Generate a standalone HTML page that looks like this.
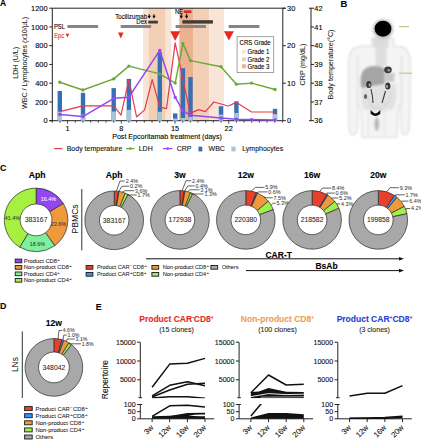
<!DOCTYPE html>
<html><head><meta charset="utf-8"><style>
html,body{margin:0;padding:0;background:#fff;}
body{width:421px;height:440px;overflow:hidden;}
svg{display:block;font-family:"Liberation Sans", sans-serif;}
</style></head><body>
<svg width="421" height="440" viewBox="0 0 421 440">
<defs>
<filter id="blur1" x="-10%" y="-10%" width="120%" height="120%"><feGaussianBlur stdDeviation="1.2"/></filter>
<filter id="blur0" x="-20%" y="-20%" width="140%" height="140%"><feGaussianBlur stdDeviation="0.5"/></filter>
</defs>
<rect width="421" height="440" fill="#fff"/>
<rect x="143.00" y="8.20" width="5.40" height="112.50" fill="#f9e5d8" />
<rect x="148.40" y="8.20" width="17.30" height="112.50" fill="#f3cfb6" />
<rect x="165.70" y="8.20" width="5.70" height="112.50" fill="#f9e5d8" />
<rect x="179.30" y="8.20" width="14.20" height="112.50" fill="#ecb290" />
<rect x="193.50" y="8.20" width="15.80" height="112.50" fill="#f3cfb6" />
<rect x="209.30" y="8.20" width="14.60" height="112.50" fill="#f9e5d8" />
<line x1="52.30" y1="8.20" x2="52.30" y2="121.20" stroke="#222" stroke-width="1" />
<line x1="49.30" y1="120.70" x2="52.30" y2="120.70" stroke="#222" stroke-width="1" />
<text x="47.50" y="123.40" font-size="7.4" text-anchor="end" font-weight="normal" fill="#000" stroke="#000" stroke-width="0.1" >0</text>
<line x1="49.30" y1="101.95" x2="52.30" y2="101.95" stroke="#222" stroke-width="1" />
<text x="47.50" y="104.65" font-size="7.4" text-anchor="end" font-weight="normal" fill="#000" stroke="#000" stroke-width="0.1" >200</text>
<line x1="49.30" y1="83.20" x2="52.30" y2="83.20" stroke="#222" stroke-width="1" />
<text x="47.50" y="85.90" font-size="7.4" text-anchor="end" font-weight="normal" fill="#000" stroke="#000" stroke-width="0.1" >400</text>
<line x1="49.30" y1="64.45" x2="52.30" y2="64.45" stroke="#222" stroke-width="1" />
<text x="47.50" y="67.15" font-size="7.4" text-anchor="end" font-weight="normal" fill="#000" stroke="#000" stroke-width="0.1" >600</text>
<line x1="49.30" y1="45.70" x2="52.30" y2="45.70" stroke="#222" stroke-width="1" />
<text x="47.50" y="48.40" font-size="7.4" text-anchor="end" font-weight="normal" fill="#000" stroke="#000" stroke-width="0.1" >800</text>
<line x1="49.30" y1="26.95" x2="52.30" y2="26.95" stroke="#222" stroke-width="1" />
<text x="47.50" y="29.65" font-size="7.4" text-anchor="end" font-weight="normal" fill="#000" stroke="#000" stroke-width="0.1" >1000</text>
<line x1="49.30" y1="8.20" x2="52.30" y2="8.20" stroke="#222" stroke-width="1" />
<text x="47.50" y="10.90" font-size="7.4" text-anchor="end" font-weight="normal" fill="#000" stroke="#000" stroke-width="0.1" >1200</text>
<line x1="52.30" y1="8.20" x2="285.80" y2="8.20" stroke="#222" stroke-width="1" />
<line x1="49.30" y1="120.70" x2="282.80" y2="120.70" stroke="#222" stroke-width="1" />
<line x1="52.30" y1="120.70" x2="52.30" y2="122.70" stroke="#222" stroke-width="0.8" />
<line x1="59.97" y1="120.70" x2="59.97" y2="122.70" stroke="#222" stroke-width="0.8" />
<line x1="67.64" y1="120.70" x2="67.64" y2="123.70" stroke="#222" stroke-width="0.8" />
<line x1="75.31" y1="120.70" x2="75.31" y2="122.70" stroke="#222" stroke-width="0.8" />
<line x1="82.98" y1="120.70" x2="82.98" y2="122.70" stroke="#222" stroke-width="0.8" />
<line x1="90.65" y1="120.70" x2="90.65" y2="122.70" stroke="#222" stroke-width="0.8" />
<line x1="98.32" y1="120.70" x2="98.32" y2="122.70" stroke="#222" stroke-width="0.8" />
<line x1="105.99" y1="120.70" x2="105.99" y2="122.70" stroke="#222" stroke-width="0.8" />
<line x1="113.66" y1="120.70" x2="113.66" y2="122.70" stroke="#222" stroke-width="0.8" />
<line x1="121.33" y1="120.70" x2="121.33" y2="123.70" stroke="#222" stroke-width="0.8" />
<line x1="129.00" y1="120.70" x2="129.00" y2="122.70" stroke="#222" stroke-width="0.8" />
<line x1="136.67" y1="120.70" x2="136.67" y2="122.70" stroke="#222" stroke-width="0.8" />
<line x1="144.34" y1="120.70" x2="144.34" y2="122.70" stroke="#222" stroke-width="0.8" />
<line x1="152.01" y1="120.70" x2="152.01" y2="122.70" stroke="#222" stroke-width="0.8" />
<line x1="159.68" y1="120.70" x2="159.68" y2="122.70" stroke="#222" stroke-width="0.8" />
<line x1="167.35" y1="120.70" x2="167.35" y2="122.70" stroke="#222" stroke-width="0.8" />
<line x1="175.02" y1="120.70" x2="175.02" y2="123.70" stroke="#222" stroke-width="0.8" />
<line x1="182.69" y1="120.70" x2="182.69" y2="122.70" stroke="#222" stroke-width="0.8" />
<line x1="190.36" y1="120.70" x2="190.36" y2="122.70" stroke="#222" stroke-width="0.8" />
<line x1="198.03" y1="120.70" x2="198.03" y2="122.70" stroke="#222" stroke-width="0.8" />
<line x1="205.70" y1="120.70" x2="205.70" y2="122.70" stroke="#222" stroke-width="0.8" />
<line x1="213.37" y1="120.70" x2="213.37" y2="122.70" stroke="#222" stroke-width="0.8" />
<line x1="221.04" y1="120.70" x2="221.04" y2="122.70" stroke="#222" stroke-width="0.8" />
<line x1="228.71" y1="120.70" x2="228.71" y2="123.70" stroke="#222" stroke-width="0.8" />
<line x1="236.38" y1="120.70" x2="236.38" y2="122.70" stroke="#222" stroke-width="0.8" />
<line x1="244.05" y1="120.70" x2="244.05" y2="122.70" stroke="#222" stroke-width="0.8" />
<line x1="251.72" y1="120.70" x2="251.72" y2="122.70" stroke="#222" stroke-width="0.8" />
<line x1="259.39" y1="120.70" x2="259.39" y2="122.70" stroke="#222" stroke-width="0.8" />
<line x1="267.06" y1="120.70" x2="267.06" y2="122.70" stroke="#222" stroke-width="0.8" />
<line x1="274.73" y1="120.70" x2="274.73" y2="122.70" stroke="#222" stroke-width="0.8" />
<line x1="282.40" y1="120.70" x2="282.40" y2="122.70" stroke="#222" stroke-width="0.8" />
<text x="67.64" y="130.80" font-size="7.4" text-anchor="middle" font-weight="normal" fill="#000" stroke="#000" stroke-width="0.1" >1</text>
<text x="121.33" y="130.80" font-size="7.4" text-anchor="middle" font-weight="normal" fill="#000" stroke="#000" stroke-width="0.1" >8</text>
<text x="175.02" y="130.80" font-size="7.4" text-anchor="middle" font-weight="normal" fill="#000" stroke="#000" stroke-width="0.1" >15</text>
<text x="228.71" y="130.80" font-size="7.4" text-anchor="middle" font-weight="normal" fill="#000" stroke="#000" stroke-width="0.1" >22</text>
<text x="167.00" y="138.50" font-size="7.1" text-anchor="middle" font-weight="normal" fill="#000" stroke="#000" stroke-width="0.1" >Post Epcoritamab treatment (days)</text>
<line x1="282.80" y1="8.20" x2="282.80" y2="120.70" stroke="#222" stroke-width="1" />
<line x1="282.80" y1="120.70" x2="285.80" y2="120.70" stroke="#222" stroke-width="1" />
<text x="287.10" y="123.40" font-size="7.4" text-anchor="start" font-weight="normal" fill="#000" stroke="#000" stroke-width="0.1" >0</text>
<line x1="282.80" y1="83.20" x2="285.80" y2="83.20" stroke="#222" stroke-width="1" />
<text x="287.10" y="85.90" font-size="7.4" text-anchor="start" font-weight="normal" fill="#000" stroke="#000" stroke-width="0.1" >10</text>
<line x1="282.80" y1="45.70" x2="285.80" y2="45.70" stroke="#222" stroke-width="1" />
<text x="287.10" y="48.40" font-size="7.4" text-anchor="start" font-weight="normal" fill="#000" stroke="#000" stroke-width="0.1" >20</text>
<line x1="282.80" y1="8.20" x2="285.80" y2="8.20" stroke="#222" stroke-width="1" />
<text x="287.10" y="10.90" font-size="7.4" text-anchor="start" font-weight="normal" fill="#000" stroke="#000" stroke-width="0.1" >30</text>
<line x1="311.00" y1="8.20" x2="311.00" y2="120.70" stroke="#222" stroke-width="1" />
<line x1="309.00" y1="120.70" x2="314.00" y2="120.70" stroke="#222" stroke-width="1" />
<text x="314.30" y="123.40" font-size="7.4" text-anchor="start" font-weight="normal" fill="#000" stroke="#000" stroke-width="0.1" >36</text>
<line x1="311.00" y1="101.95" x2="314.00" y2="101.95" stroke="#222" stroke-width="1" />
<text x="314.30" y="104.65" font-size="7.4" text-anchor="start" font-weight="normal" fill="#000" stroke="#000" stroke-width="0.1" >37</text>
<line x1="311.00" y1="83.20" x2="314.00" y2="83.20" stroke="#222" stroke-width="1" />
<text x="314.30" y="85.90" font-size="7.4" text-anchor="start" font-weight="normal" fill="#000" stroke="#000" stroke-width="0.1" >38</text>
<line x1="311.00" y1="64.45" x2="314.00" y2="64.45" stroke="#222" stroke-width="1" />
<text x="314.30" y="67.15" font-size="7.4" text-anchor="start" font-weight="normal" fill="#000" stroke="#000" stroke-width="0.1" >39</text>
<line x1="311.00" y1="45.70" x2="314.00" y2="45.70" stroke="#222" stroke-width="1" />
<text x="314.30" y="48.40" font-size="7.4" text-anchor="start" font-weight="normal" fill="#000" stroke="#000" stroke-width="0.1" >40</text>
<line x1="311.00" y1="26.95" x2="314.00" y2="26.95" stroke="#222" stroke-width="1" />
<text x="314.30" y="29.65" font-size="7.4" text-anchor="start" font-weight="normal" fill="#000" stroke="#000" stroke-width="0.1" >41</text>
<line x1="309.00" y1="8.20" x2="314.00" y2="8.20" stroke="#222" stroke-width="1" />
<text x="314.30" y="10.90" font-size="7.4" text-anchor="start" font-weight="normal" fill="#000" stroke="#000" stroke-width="0.1" >42</text>
<text x="0.00" y="0.00" font-size="7.1" text-anchor="middle" font-weight="normal" fill="#111" stroke="#111" stroke-width="0.04" transform="translate(18.4,62.8) rotate(-90)">LDH (U/L)</text>
<text x="0.00" y="0.00" font-size="7.1" text-anchor="middle" font-weight="normal" fill="#111" stroke="#111" stroke-width="0.04" transform="translate(27.3,62.9) rotate(-90)">WBC / Lymphocytes (x10/μL)</text>
<text x="0.00" y="0.00" font-size="7.2" text-anchor="middle" font-weight="normal" fill="#111" stroke="#111" stroke-width="0.04" transform="translate(305.3,64.5) rotate(-90)">CRP (mg/dL)</text>
<text x="0.00" y="0.00" font-size="7.2" text-anchor="middle" font-weight="normal" fill="#111" stroke="#111" stroke-width="0.04" transform="translate(332.5,64.5) rotate(-90)">Body temperature(°C)</text>
<text x="0.00" y="6.20" font-size="8.5" text-anchor="start" font-weight="bold" fill="#000" stroke="#000" stroke-width="0.1" >A</text>
<rect x="57.60" y="91.00" width="4.40" height="29.70" fill="#3470b6" />
<rect x="57.60" y="111.70" width="4.40" height="9.00" fill="#a9c5d6" />
<rect x="80.80" y="92.80" width="4.40" height="27.90" fill="#3470b6" />
<rect x="80.80" y="114.70" width="4.40" height="6.00" fill="#a9c5d6" />
<rect x="111.50" y="88.10" width="4.40" height="32.60" fill="#3470b6" />
<rect x="111.50" y="111.50" width="4.40" height="9.20" fill="#a9c5d6" />
<rect x="126.70" y="78.90" width="4.40" height="41.80" fill="#3470b6" />
<rect x="126.70" y="109.90" width="4.40" height="10.80" fill="#a9c5d6" />
<rect x="157.60" y="52.40" width="4.40" height="68.30" fill="#3470b6" />
<rect x="157.60" y="111.80" width="4.40" height="8.90" fill="#a9c5d6" />
<rect x="173.00" y="113.40" width="4.40" height="7.30" fill="#3470b6" />
<rect x="173.00" y="118.50" width="4.40" height="2.20" fill="#a9c5d6" />
<rect x="180.70" y="68.20" width="4.40" height="52.50" fill="#3470b6" />
<rect x="180.70" y="118.00" width="4.40" height="2.70" fill="#a9c5d6" />
<rect x="188.30" y="77.00" width="4.40" height="43.70" fill="#3470b6" />
<rect x="188.30" y="116.90" width="4.40" height="3.80" fill="#a9c5d6" />
<rect x="218.80" y="106.20" width="4.40" height="14.50" fill="#3470b6" />
<rect x="218.80" y="114.60" width="4.40" height="6.10" fill="#a9c5d6" />
<rect x="234.20" y="101.30" width="4.40" height="19.40" fill="#3470b6" />
<rect x="234.20" y="113.00" width="4.40" height="7.70" fill="#a9c5d6" />
<rect x="272.80" y="108.80" width="4.40" height="11.90" fill="#3470b6" />
<rect x="272.80" y="114.10" width="4.40" height="6.60" fill="#a9c5d6" />
<polyline points="59.80,111.70 82.90,105.80 113.70,105.90 121.00,115.20 128.90,79.70 136.60,117.00 144.60,109.90 152.20,79.70 159.80,107.10 166.50,108.60 175.20,42.80 190.20,113.40 198.70,109.60 205.50,111.60 213.80,102.00 228.30,106.00 236.40,102.40 251.60,112.00 275.00,112.00" fill="none" stroke="#e5394d" stroke-width="1.2" stroke-linejoin="round" />
<polyline points="59.80,82.20 82.90,90.00 113.70,78.90 128.90,66.10 159.80,73.90 175.20,83.10 182.90,43.60 190.50,60.60 221.00,66.70 236.40,84.20 251.60,83.10 275.00,89.50" fill="none" stroke="#6aa83a" stroke-width="1.45" stroke-linejoin="round" />
<circle cx="59.8" cy="82.2" r="1.65" fill="#6aa83a"/>
<circle cx="82.9" cy="90" r="1.65" fill="#6aa83a"/>
<circle cx="113.7" cy="78.9" r="1.65" fill="#6aa83a"/>
<circle cx="128.9" cy="66.1" r="1.65" fill="#6aa83a"/>
<circle cx="159.8" cy="73.9" r="1.65" fill="#6aa83a"/>
<circle cx="175.2" cy="83.1" r="1.65" fill="#6aa83a"/>
<circle cx="182.9" cy="43.6" r="1.65" fill="#6aa83a"/>
<circle cx="190.5" cy="60.6" r="1.65" fill="#6aa83a"/>
<circle cx="221" cy="66.7" r="1.65" fill="#6aa83a"/>
<circle cx="236.4" cy="84.2" r="1.65" fill="#6aa83a"/>
<circle cx="251.6" cy="83.1" r="1.65" fill="#6aa83a"/>
<circle cx="275" cy="89.5" r="1.65" fill="#6aa83a"/>
<polyline points="59.80,114.40 82.90,116.60 113.70,98.30 128.90,97.20 159.80,50.40 175.20,97.40 182.90,110.60 190.50,115.30 221.00,118.00 236.40,119.20 251.60,119.60 275.00,119.90" fill="none" stroke="#9447f5" stroke-width="1.5" stroke-linejoin="round" />
<circle cx="59.8" cy="114.4" r="1.7" fill="#9447f5"/>
<circle cx="82.9" cy="116.6" r="1.7" fill="#9447f5"/>
<circle cx="113.7" cy="98.3" r="1.7" fill="#9447f5"/>
<circle cx="128.9" cy="97.2" r="1.7" fill="#9447f5"/>
<circle cx="159.8" cy="50.4" r="1.7" fill="#9447f5"/>
<circle cx="175.2" cy="97.4" r="1.7" fill="#9447f5"/>
<circle cx="182.9" cy="110.6" r="1.7" fill="#9447f5"/>
<circle cx="190.5" cy="115.3" r="1.7" fill="#9447f5"/>
<circle cx="221" cy="118" r="1.7" fill="#9447f5"/>
<circle cx="236.4" cy="119.2" r="1.7" fill="#9447f5"/>
<circle cx="251.6" cy="119.6" r="1.7" fill="#9447f5"/>
<circle cx="275" cy="119.9" r="1.7" fill="#9447f5"/>
<text x="53.90" y="28.90" font-size="6.9" text-anchor="start" font-weight="normal" fill="#000" stroke="#000" stroke-width="0.1" textLength="11.2" lengthAdjust="spacingAndGlyphs">PSL</text>
<rect x="67.40" y="25.00" width="30.70" height="3.00" fill="#858585" />
<rect x="120.70" y="25.00" width="30.40" height="3.00" fill="#858585" />
<rect x="175.60" y="25.00" width="30.40" height="3.00" fill="#858585" />
<rect x="228.60" y="25.00" width="30.80" height="3.00" fill="#858585" />
<text x="54.20" y="37.90" font-size="6.8" text-anchor="start" font-weight="normal" fill="#e8281e" stroke="#e8281e" stroke-width="0.1" textLength="9.8" lengthAdjust="spacingAndGlyphs">Epc</text>
<polygon points="65.60,33.70 69.20,33.70 67.40,37.50" fill="#e8281e"/>
<polygon points="118.05,32.60 123.55,32.60 120.80,38.60" fill="#e8281e"/>
<polygon points="170.20,31.30 180.20,31.30 175.20,40.80" fill="#e8281e"/>
<polygon points="223.90,31.30 233.90,31.30 228.90,40.60" fill="#e8281e"/>
<text x="115.30" y="18.80" font-size="6.7" text-anchor="start" font-weight="normal" fill="#000" stroke="#000" stroke-width="0.1" textLength="31.8" lengthAdjust="spacingAndGlyphs">Tocilizumab</text>
<text x="136.30" y="24.30" font-size="6.7" text-anchor="start" font-weight="normal" fill="#000" stroke="#000" stroke-width="0.1" textLength="10.8" lengthAdjust="spacingAndGlyphs">Dex</text>
<rect x="148.30" y="20.70" width="9.60" height="2.80" fill="#3c3c3c" />
<rect x="182.40" y="20.20" width="30.50" height="3.40" fill="#3c3c3c" />
<text x="175.10" y="13.50" font-size="6.7" text-anchor="start" font-weight="normal" fill="#000" stroke="#000" stroke-width="0.1" textLength="8.2" lengthAdjust="spacingAndGlyphs">NE</text>
<rect x="183.80" y="10.40" width="7.60" height="2.60" fill="#d62a1c" />
<line x1="149.20" y1="14.20" x2="149.20" y2="16.80" stroke="#000" stroke-width="0.9" /><polygon points="147.60,15.80 150.80,15.80 149.20,18.80" fill="#000"/>
<line x1="154.00" y1="14.20" x2="154.00" y2="16.80" stroke="#000" stroke-width="0.9" /><polygon points="152.40,15.80 155.60,15.80 154.00,18.80" fill="#000"/>
<line x1="181.30" y1="13.60" x2="181.30" y2="16.80" stroke="#000" stroke-width="0.9" /><polygon points="179.70,15.80 182.90,15.80 181.30,18.80" fill="#000"/>
<line x1="186.60" y1="13.60" x2="186.60" y2="16.80" stroke="#000" stroke-width="0.9" /><polygon points="185.00,15.80 188.20,15.80 186.60,18.80" fill="#000"/>
<rect x="237.10" y="36.70" width="36.60" height="35.70" fill="#fff" stroke="#8a8a8a" stroke-width="0.8"/>
<text x="239.60" y="45.20" font-size="6.7" text-anchor="start" font-weight="normal" fill="#000" stroke="#000" stroke-width="0.1" textLength="31.1" lengthAdjust="spacingAndGlyphs">CRS Grade</text>
<rect x="242.00" y="49.60" width="4.00" height="4.00" fill="#f9e5d8" />
<text x="247.50" y="54.00" font-size="6.7" text-anchor="start" font-weight="normal" fill="#000" stroke="#000" stroke-width="0.1" textLength="22" lengthAdjust="spacingAndGlyphs">Grade 1</text>
<rect x="242.00" y="57.30" width="4.00" height="4.00" fill="#f3cfb6" />
<text x="247.50" y="61.70" font-size="6.7" text-anchor="start" font-weight="normal" fill="#000" stroke="#000" stroke-width="0.1" textLength="22" lengthAdjust="spacingAndGlyphs">Grade 2</text>
<rect x="242.00" y="64.30" width="4.00" height="4.00" fill="#ecb290" />
<text x="247.50" y="68.70" font-size="6.7" text-anchor="start" font-weight="normal" fill="#000" stroke="#000" stroke-width="0.1" textLength="22" lengthAdjust="spacingAndGlyphs">Grade 3</text>
<line x1="54.20" y1="148.60" x2="62.40" y2="148.60" stroke="#e5394d" stroke-width="1.2" />
<text x="66.70" y="151.10" font-size="7" text-anchor="start" font-weight="normal" fill="#111" stroke="#111" stroke-width="0.1" >Body temperature</text>
<line x1="126.00" y1="148.60" x2="134.50" y2="148.60" stroke="#6aa83a" stroke-width="1.2" />
<circle cx="130.2" cy="148.6" r="1.3" fill="#6aa83a"/>
<text x="138.70" y="151.10" font-size="7" text-anchor="start" font-weight="normal" fill="#111" stroke="#111" stroke-width="0.1" >LDH</text>
<line x1="163.00" y1="148.60" x2="172.50" y2="148.60" stroke="#9447f5" stroke-width="1.2" />
<circle cx="167.7" cy="148.6" r="1.3" fill="#9447f5"/>
<text x="176.70" y="151.10" font-size="7" text-anchor="start" font-weight="normal" fill="#111" stroke="#111" stroke-width="0.1" >CRP</text>
<rect x="198.50" y="146.70" width="3.80" height="4.70" fill="#3470b6" />
<text x="208.60" y="151.10" font-size="7" text-anchor="start" font-weight="normal" fill="#111" stroke="#111" stroke-width="0.1" >WBC</text>
<rect x="231.40" y="146.70" width="4.20" height="4.70" fill="#a9c5d6" />
<text x="242.20" y="151.10" font-size="7" text-anchor="start" font-weight="normal" fill="#111" stroke="#111" stroke-width="0.1" >Lymphocytes</text>
<text x="340.60" y="7.00" font-size="9.5" text-anchor="start" font-weight="bold" fill="#000" stroke="#000" stroke-width="0.1" >B</text>
<g filter="url(#blur1)">
<path d="M372,38 L393,38 L394,46 Q404,46 407,50 Q411,56 410.5,66 L410,100 L409.5,126 Q409,135 405,135 Q401,135 401,126 L400.5,104 L398,108 L397,137.5 L362,137.5 L361,108 L358,104 L357.5,126 Q357,135 353,135 Q349,135 349,126 L348.5,100 L348.5,66 Q348.5,55 352,50 Q356,46 366,46 L372,46 Z" fill="#f4f4f4" stroke="#dadada" stroke-width="1.1"/>
<path d="M357.5,56 L357.5,104 M401.5,56 L401.5,104" stroke="#dadada" stroke-width="1.2" fill="none"/>
<path d="M372.5,37 L389,37 L388,48 L373.5,48 Z" fill="#dcdcdc"/>
<path d="M381,46 L381,66" stroke="#dedede" stroke-width="11" fill="none"/>
<path d="M361,86 Q360,108 366,110 L392,110 Q398,104 396,84 Z" fill="#e2e2e2"/>
<path d="M368.5,112 L368.5,137 M384.5,112 L384.5,137" stroke="#e0e0e0" stroke-width="1" fill="none"/>
<path d="M360.5,82 Q360,67 372,66 Q383,65.5 386,70 L385,84 L372,86 L361,88 Z" fill="#a5a5a5"/>
<path d="M384,72 L395,73 L394,82 L384,82 Z" fill="#cacaca"/>
<ellipse cx="383" cy="29" rx="10.5" ry="10" fill="#c4c4c4"/>
<ellipse cx="376.8" cy="124" rx="2.4" ry="7" fill="#b8b8b8"/>
<path d="M365,92 L372,106 M393,92 L385,106 M370,106 L386,112 M386,106 L370,112" stroke="#d0d0d0" stroke-width="1" fill="none"/>
</g>
<g filter="url(#blur0)">
<ellipse cx="383" cy="28.7" rx="8.4" ry="8" fill="#000"/>
<ellipse cx="388" cy="69.8" rx="3.8" ry="3.4" fill="#3a3a3a"/>
<ellipse cx="388.8" cy="70.2" rx="1.4" ry="1.3" fill="#999"/>
<ellipse cx="368.8" cy="84.5" rx="2.6" ry="3.6" fill="#333"/>
<ellipse cx="369.6" cy="85" rx="1" ry="1.8" fill="#aaa"/>
<ellipse cx="387.8" cy="86" rx="2.6" ry="3.6" fill="#333"/>
<ellipse cx="387" cy="86.5" rx="1" ry="1.8" fill="#aaa"/>
<path d="M371,89 L372.5,97 L373,103 M385.5,91 L383.5,98 L382,103" stroke="#3a3a3a" stroke-width="1.1" fill="none"/>
<ellipse cx="365.5" cy="96.5" rx="1.6" ry="2.5" fill="#666"/>
<path d="M371.3,111.8 Q375.5,116.5 379.6,111.8 L379.6,113.5 Q375.5,117 371.3,113.5 Z" fill="#111" stroke="#111" stroke-width="1.4"/>
</g>
<rect x="399.00" y="26.00" width="10.00" height="1.20" fill="#c8c490" />
<rect x="399.00" y="72.60" width="13.00" height="1.20" fill="#c8c490" />
<text x="0.00" y="171.20" font-size="8.8" text-anchor="start" font-weight="bold" fill="#000" stroke="#000" stroke-width="0.1" >C</text>
<text x="37.10" y="177.90" font-size="8.7" text-anchor="middle" font-weight="bold" fill="#000" stroke="#000" stroke-width="0.1" >Aph</text>
<path d="M36.10,188.10 A31.8,31.8 0 0 1 63.37,203.54 L49.82,211.67 A16,16 0 0 0 36.10,203.90 Z" fill="#9346f2" stroke="#2a2a2a" stroke-width="0.7"/>
<path d="M63.37,203.54 A31.8,31.8 0 0 1 54.79,245.63 L45.50,232.84 A16,16 0 0 0 49.82,211.67 Z" fill="#f0993c" stroke="#2a2a2a" stroke-width="0.7"/>
<path d="M54.79,245.63 A31.8,31.8 0 0 1 19.74,247.17 L27.87,233.62 A16,16 0 0 0 45.50,232.84 Z" fill="#7ef09c" stroke="#2a2a2a" stroke-width="0.7"/>
<path d="M19.74,247.17 A31.8,31.8 0 0 1 36.10,188.10 L36.10,203.90 A16,16 0 0 0 27.87,233.62 Z" fill="#a6f040" stroke="#2a2a2a" stroke-width="0.7"/>
<text x="36.10" y="222.20" font-size="6.8" text-anchor="middle" font-weight="normal" fill="#222" stroke="#222" stroke-width="0.05" >383167</text>
<text x="48.50" y="201.00" font-size="5.4" text-anchor="middle" font-weight="normal" fill="#fff" stroke="#fff" stroke-width="0.05" >16.4%</text>
<text x="58.50" y="225.80" font-size="5.4" text-anchor="middle" font-weight="normal" fill="#333" stroke="#333" stroke-width="0.05" >23.6%</text>
<text x="37.50" y="245.80" font-size="5.4" text-anchor="middle" font-weight="normal" fill="#333" stroke="#333" stroke-width="0.05" >18.6%</text>
<text x="12.40" y="219.60" font-size="5.4" text-anchor="middle" font-weight="normal" fill="#333" stroke="#333" stroke-width="0.05" >41.4%</text>
<rect x="15.20" y="259.10" width="6.60" height="3.70" fill="#9346f2" stroke="#1a1a1a" stroke-width="0.9"/>
<text x="23.80" y="263.00" font-size="5.8" text-anchor="start" font-weight="normal" fill="#222" stroke="#222" stroke-width="0.06" >Product CD8<tspan baseline-shift="2" font-size="4.3"> +</tspan></text>
<rect x="15.20" y="265.55" width="6.60" height="3.70" fill="#f0993c" stroke="#1a1a1a" stroke-width="0.9"/>
<text x="23.80" y="269.45" font-size="5.8" text-anchor="start" font-weight="normal" fill="#222" stroke="#222" stroke-width="0.06" >Non-product CD8<tspan baseline-shift="2" font-size="4.3"> +</tspan></text>
<rect x="15.20" y="272.00" width="6.60" height="3.70" fill="#7ef09c" stroke="#1a1a1a" stroke-width="0.9"/>
<text x="23.80" y="275.90" font-size="5.8" text-anchor="start" font-weight="normal" fill="#222" stroke="#222" stroke-width="0.06" >Product CD4<tspan baseline-shift="2" font-size="4.3"> +</tspan></text>
<rect x="15.20" y="278.45" width="6.60" height="3.70" fill="#a6f040" stroke="#1a1a1a" stroke-width="0.9"/>
<text x="23.80" y="282.35" font-size="5.8" text-anchor="start" font-weight="normal" fill="#222" stroke="#222" stroke-width="0.06" >Non-product CD4<tspan baseline-shift="2" font-size="4.3"> +</tspan></text>
<line x1="81.80" y1="189.00" x2="81.80" y2="250.30" stroke="#333" stroke-width="1" />
<text x="0.00" y="0.00" font-size="8.6" text-anchor="middle" font-weight="normal" fill="#111" stroke="#111" stroke-width="0.03" transform="translate(78.2,218.9) rotate(-90)">PBMCs</text>
<text x="114.20" y="177.80" font-size="8.6" text-anchor="middle" font-weight="bold" fill="#000" stroke="#000" stroke-width="0.1" >Aph</text>
<path d="M114.20,191.00 A29.3,29.3 0 0 1 118.60,191.33 L116.42,205.67 A14.8,14.8 0 0 0 114.20,205.50 Z" fill="#e8402a" stroke="#2a2a2a" stroke-width="0.7"/>
<path d="M118.60,191.33 A29.3,29.3 0 0 1 118.97,191.39 L116.61,205.70 A14.8,14.8 0 0 0 116.42,205.67 Z" fill="#3d8ef5" stroke="#2a2a2a" stroke-width="0.7"/>
<path d="M118.97,191.39 A29.3,29.3 0 0 1 125.33,193.20 L119.82,206.61 A14.8,14.8 0 0 0 116.61,205.70 Z" fill="#f0993c" stroke="#2a2a2a" stroke-width="0.7"/>
<path d="M125.33,193.20 A29.3,29.3 0 0 1 128.15,194.54 L121.25,207.29 A14.8,14.8 0 0 0 119.82,206.61 Z" fill="#9ef04a" stroke="#2a2a2a" stroke-width="0.7"/>
<path d="M128.15,194.54 A29.3,29.3 0 1 1 114.20,191.00 L114.20,205.50 A14.8,14.8 0 1 0 121.25,207.29 Z" fill="#a8a8a8" stroke="#2a2a2a" stroke-width="0.7"/>
<text x="114.20" y="222.60" font-size="6.8" text-anchor="middle" font-weight="normal" fill="#222" stroke="#222" stroke-width="0.05" >383167</text>
<polyline points="116.41,191.08 120.00,181.00 124.90,181.00" fill="none" stroke="#222" stroke-width="0.7"/>
<text x="125.70" y="182.90" font-size="5.4" text-anchor="start" font-weight="normal" fill="#333" stroke="#333" stroke-width="0.04" >2.4%</text>
<polyline points="118.78,191.36 122.00,186.20 129.20,186.20" fill="none" stroke="#222" stroke-width="0.7"/>
<text x="130.00" y="188.10" font-size="5.4" text-anchor="start" font-weight="normal" fill="#333" stroke="#333" stroke-width="0.04" >0.2%</text>
<polyline points="122.20,192.11 125.00,190.70 134.20,190.70" fill="none" stroke="#222" stroke-width="0.7"/>
<text x="135.00" y="192.60" font-size="5.4" text-anchor="start" font-weight="normal" fill="#333" stroke="#333" stroke-width="0.04" >3.6%</text>
<polyline points="126.76,193.83 127.50,195.00 136.70,195.00" fill="none" stroke="#222" stroke-width="0.7"/>
<text x="137.50" y="196.90" font-size="5.4" text-anchor="start" font-weight="normal" fill="#333" stroke="#333" stroke-width="0.04" >1.7%</text>
<text x="179.90" y="177.80" font-size="8.6" text-anchor="middle" font-weight="bold" fill="#000" stroke="#000" stroke-width="0.1" >3w</text>
<path d="M179.90,190.60 A29.3,29.3 0 0 1 184.30,190.93 L182.12,205.27 A14.8,14.8 0 0 0 179.90,205.10 Z" fill="#e8402a" stroke="#2a2a2a" stroke-width="0.7"/>
<path d="M184.30,190.93 A29.3,29.3 0 0 1 185.03,191.05 L182.49,205.33 A14.8,14.8 0 0 0 182.12,205.27 Z" fill="#3d8ef5" stroke="#2a2a2a" stroke-width="0.7"/>
<path d="M185.03,191.05 A29.3,29.3 0 0 1 190.51,192.59 L185.26,206.11 A14.8,14.8 0 0 0 182.49,205.33 Z" fill="#f0993c" stroke="#2a2a2a" stroke-width="0.7"/>
<path d="M190.51,192.59 A29.3,29.3 0 0 1 192.71,193.55 L186.37,206.59 A14.8,14.8 0 0 0 185.26,206.11 Z" fill="#9ef04a" stroke="#2a2a2a" stroke-width="0.7"/>
<path d="M192.71,193.55 A29.3,29.3 0 1 1 179.90,190.60 L179.90,205.10 A14.8,14.8 0 1 0 186.37,206.59 Z" fill="#a8a8a8" stroke="#2a2a2a" stroke-width="0.7"/>
<text x="179.90" y="222.20" font-size="6.8" text-anchor="middle" font-weight="normal" fill="#222" stroke="#222" stroke-width="0.05" >172938</text>
<polyline points="182.11,190.68 186.00,180.70 191.20,180.70" fill="none" stroke="#222" stroke-width="0.7"/>
<text x="192.00" y="182.60" font-size="5.4" text-anchor="start" font-weight="normal" fill="#333" stroke="#333" stroke-width="0.04" >2.4%</text>
<polyline points="184.67,190.99 187.80,185.90 194.70,185.90" fill="none" stroke="#222" stroke-width="0.7"/>
<text x="195.50" y="187.80" font-size="5.4" text-anchor="start" font-weight="normal" fill="#333" stroke="#333" stroke-width="0.04" >0.4%</text>
<polyline points="187.81,191.69 189.60,189.80 199.50,189.80" fill="none" stroke="#222" stroke-width="0.7"/>
<text x="200.30" y="191.70" font-size="5.4" text-anchor="start" font-weight="normal" fill="#333" stroke="#333" stroke-width="0.04" >3.1%</text>
<polyline points="191.62,193.05 191.50,194.00 203.60,194.00" fill="none" stroke="#222" stroke-width="0.7"/>
<text x="204.40" y="195.90" font-size="5.4" text-anchor="start" font-weight="normal" fill="#333" stroke="#333" stroke-width="0.04" >1.3%</text>
<text x="245.80" y="177.80" font-size="8.6" text-anchor="middle" font-weight="bold" fill="#000" stroke="#000" stroke-width="0.1" >12w</text>
<path d="M245.80,190.60 A29.3,29.3 0 0 1 256.41,192.59 L251.16,206.11 A14.8,14.8 0 0 0 245.80,205.10 Z" fill="#e8402a" stroke="#2a2a2a" stroke-width="0.7"/>
<path d="M256.41,192.59 A29.3,29.3 0 0 1 257.44,193.01 L251.68,206.32 A14.8,14.8 0 0 0 251.16,206.11 Z" fill="#3d8ef5" stroke="#2a2a2a" stroke-width="0.7"/>
<path d="M257.44,193.01 A29.3,29.3 0 0 1 268.38,201.22 L257.20,210.47 A14.8,14.8 0 0 0 251.68,206.32 Z" fill="#f0993c" stroke="#2a2a2a" stroke-width="0.7"/>
<path d="M268.38,201.22 A29.3,29.3 0 0 1 273.24,209.63 L259.66,214.71 A14.8,14.8 0 0 0 257.20,210.47 Z" fill="#9ef04a" stroke="#2a2a2a" stroke-width="0.7"/>
<path d="M273.24,209.63 A29.3,29.3 0 1 1 245.80,190.60 L245.80,205.10 A14.8,14.8 0 1 0 259.66,214.71 Z" fill="#a8a8a8" stroke="#2a2a2a" stroke-width="0.7"/>
<text x="245.80" y="222.20" font-size="6.8" text-anchor="middle" font-weight="normal" fill="#222" stroke="#222" stroke-width="0.05" >220380</text>
<polyline points="251.20,191.10 255.40,187.40 264.50,187.40" fill="none" stroke="#222" stroke-width="0.7"/>
<text x="265.30" y="189.30" font-size="5.4" text-anchor="start" font-weight="normal" fill="#333" stroke="#333" stroke-width="0.04" >5.9%</text>
<polyline points="256.93,192.80 258.50,191.90 267.50,191.90" fill="none" stroke="#222" stroke-width="0.7"/>
<text x="268.30" y="193.80" font-size="5.4" text-anchor="start" font-weight="normal" fill="#333" stroke="#333" stroke-width="0.04" >0.6%</text>
<polyline points="263.39,196.47 266.10,197.80 272.80,197.80" fill="none" stroke="#222" stroke-width="0.7"/>
<text x="273.60" y="199.70" font-size="5.4" text-anchor="start" font-weight="normal" fill="#333" stroke="#333" stroke-width="0.04" >7.5%</text>
<polyline points="271.16,205.22 273.00,203.20 275.80,203.20" fill="none" stroke="#222" stroke-width="0.7"/>
<text x="276.60" y="205.10" font-size="5.4" text-anchor="start" font-weight="normal" fill="#333" stroke="#333" stroke-width="0.04" >5.3%</text>
<text x="312.10" y="177.80" font-size="8.6" text-anchor="middle" font-weight="bold" fill="#000" stroke="#000" stroke-width="0.1" >16w</text>
<path d="M312.10,190.60 A29.3,29.3 0 0 1 326.86,194.59 L319.55,207.11 A14.8,14.8 0 0 0 312.10,205.10 Z" fill="#e8402a" stroke="#2a2a2a" stroke-width="0.7"/>
<path d="M326.86,194.59 A29.3,29.3 0 0 1 327.80,195.16 L320.03,207.40 A14.8,14.8 0 0 0 319.55,207.11 Z" fill="#3d8ef5" stroke="#2a2a2a" stroke-width="0.7"/>
<path d="M327.80,195.16 A29.3,29.3 0 0 1 334.91,201.51 L323.62,210.61 A14.8,14.8 0 0 0 320.03,207.40 Z" fill="#f0993c" stroke="#2a2a2a" stroke-width="0.7"/>
<path d="M334.91,201.51 A29.3,29.3 0 0 1 338.99,208.26 L325.68,214.02 A14.8,14.8 0 0 0 323.62,210.61 Z" fill="#9ef04a" stroke="#2a2a2a" stroke-width="0.7"/>
<path d="M338.99,208.26 A29.3,29.3 0 1 1 312.10,190.60 L312.10,205.10 A14.8,14.8 0 1 0 325.68,214.02 Z" fill="#a8a8a8" stroke="#2a2a2a" stroke-width="0.7"/>
<text x="312.10" y="222.20" font-size="6.8" text-anchor="middle" font-weight="normal" fill="#222" stroke="#222" stroke-width="0.05" >218582</text>
<polyline points="319.74,191.61 322.30,188.10 331.30,188.10" fill="none" stroke="#222" stroke-width="0.7"/>
<text x="332.10" y="190.00" font-size="5.4" text-anchor="start" font-weight="normal" fill="#333" stroke="#333" stroke-width="0.04" >8.4%</text>
<polyline points="327.33,194.87 326.70,193.10 334.80,193.10" fill="none" stroke="#222" stroke-width="0.7"/>
<text x="335.60" y="195.00" font-size="5.4" text-anchor="start" font-weight="normal" fill="#333" stroke="#333" stroke-width="0.04" >0.6%</text>
<polyline points="331.61,198.04 332.70,198.00 338.40,198.00" fill="none" stroke="#222" stroke-width="0.7"/>
<text x="339.20" y="199.90" font-size="5.4" text-anchor="start" font-weight="normal" fill="#333" stroke="#333" stroke-width="0.04" >5.2%</text>
<polyline points="337.18,204.75 337.40,203.80 340.20,203.80" fill="none" stroke="#222" stroke-width="0.7"/>
<text x="341.00" y="205.70" font-size="5.4" text-anchor="start" font-weight="normal" fill="#333" stroke="#333" stroke-width="0.04" >4.3%</text>
<text x="378.30" y="177.80" font-size="8.6" text-anchor="middle" font-weight="bold" fill="#000" stroke="#000" stroke-width="0.1" >20w</text>
<path d="M378.30,190.60 A29.3,29.3 0 0 1 394.46,195.46 L386.46,207.56 A14.8,14.8 0 0 0 378.30,205.10 Z" fill="#e8402a" stroke="#2a2a2a" stroke-width="0.7"/>
<path d="M394.46,195.46 A29.3,29.3 0 0 1 396.98,197.32 L387.73,208.50 A14.8,14.8 0 0 0 386.46,207.56 Z" fill="#3d8ef5" stroke="#2a2a2a" stroke-width="0.7"/>
<path d="M396.98,197.32 A29.3,29.3 0 0 1 404.32,206.43 L391.44,213.10 A14.8,14.8 0 0 0 387.73,208.50 Z" fill="#f0993c" stroke="#2a2a2a" stroke-width="0.7"/>
<path d="M404.32,206.43 A29.3,29.3 0 0 1 406.93,213.69 L392.76,216.76 A14.8,14.8 0 0 0 391.44,213.10 Z" fill="#9ef04a" stroke="#2a2a2a" stroke-width="0.7"/>
<path d="M406.93,213.69 A29.3,29.3 0 1 1 378.30,190.60 L378.30,205.10 A14.8,14.8 0 1 0 392.76,216.76 Z" fill="#a8a8a8" stroke="#2a2a2a" stroke-width="0.7"/>
<text x="378.30" y="222.20" font-size="6.8" text-anchor="middle" font-weight="normal" fill="#222" stroke="#222" stroke-width="0.05" >199858</text>
<polyline points="386.74,191.84 390.00,187.70 398.90,187.70" fill="none" stroke="#222" stroke-width="0.7"/>
<text x="399.70" y="189.60" font-size="5.4" text-anchor="start" font-weight="normal" fill="#333" stroke="#333" stroke-width="0.04" >9.3%</text>
<polyline points="395.74,196.36 395.50,194.80 404.80,194.80" fill="none" stroke="#222" stroke-width="0.7"/>
<text x="405.60" y="196.70" font-size="5.4" text-anchor="start" font-weight="normal" fill="#333" stroke="#333" stroke-width="0.04" >1.7%</text>
<polyline points="401.11,201.51 402.00,201.10 408.40,201.10" fill="none" stroke="#222" stroke-width="0.7"/>
<text x="409.20" y="203.00" font-size="5.4" text-anchor="start" font-weight="normal" fill="#333" stroke="#333" stroke-width="0.04" >6.4%</text>
<polyline points="405.87,209.97 406.20,208.50 410.20,208.50" fill="none" stroke="#222" stroke-width="0.7"/>
<text x="411.00" y="210.40" font-size="5.4" text-anchor="start" font-weight="normal" fill="#333" stroke="#333" stroke-width="0.04" >4.2%</text>
<line x1="146.00" y1="258.80" x2="400.00" y2="258.80" stroke="#111" stroke-width="1" />
<polygon points="399,257 404,258.8 399,260.6" fill="#111"/>
<text x="278.70" y="257.60" font-size="8.5" text-anchor="middle" font-weight="bold" fill="#000" stroke="#000" stroke-width="0.1" >CAR-T</text>
<line x1="246.00" y1="270.60" x2="400.00" y2="270.60" stroke="#111" stroke-width="1" />
<polygon points="399,268.8 404,270.6 399,272.4" fill="#111"/>
<text x="326.60" y="268.80" font-size="8.5" text-anchor="middle" font-weight="bold" fill="#000" stroke="#000" stroke-width="0.1" >BsAb</text>
<rect x="86.10" y="265.50" width="6.80" height="3.70" fill="#e8402a" stroke="#1a1a1a" stroke-width="0.9"/>
<text x="96.90" y="269.30" font-size="5.6" text-anchor="start" font-weight="normal" fill="#222" stroke="#222" stroke-width="0.06" >Product CAR<tspan baseline-shift="2" font-size="4.3"> − </tspan>CD8<tspan baseline-shift="2" font-size="4.3"> +</tspan></text>
<rect x="86.10" y="272.50" width="6.80" height="3.70" fill="#3d8ef5" stroke="#1a1a1a" stroke-width="0.9"/>
<text x="96.90" y="276.30" font-size="5.6" text-anchor="start" font-weight="normal" fill="#222" stroke="#222" stroke-width="0.06" >Product CAR<tspan baseline-shift="2" font-size="4.3"> +</tspan>CD8<tspan baseline-shift="2" font-size="4.3"> +</tspan></text>
<rect x="151.90" y="265.50" width="6.80" height="3.70" fill="#f0993c" stroke="#1a1a1a" stroke-width="0.9"/>
<text x="162.70" y="269.30" font-size="5.6" text-anchor="start" font-weight="normal" fill="#222" stroke="#222" stroke-width="0.06" >Non-product CD8<tspan baseline-shift="2" font-size="4.3"> +</tspan></text>
<rect x="151.90" y="272.50" width="6.80" height="3.70" fill="#9ef04a" stroke="#1a1a1a" stroke-width="0.9"/>
<text x="162.70" y="276.30" font-size="5.6" text-anchor="start" font-weight="normal" fill="#222" stroke="#222" stroke-width="0.06" >Non-product CD4<tspan baseline-shift="2" font-size="4.3"> +</tspan></text>
<rect x="210.90" y="265.50" width="6.80" height="3.70" fill="#a8a8a8" stroke="#1a1a1a" stroke-width="0.9"/>
<text x="221.70" y="269.30" font-size="5.6" text-anchor="start" font-weight="normal" fill="#222" stroke="#222" stroke-width="0.06" >Others</text>
<text x="0.00" y="308.80" font-size="8.8" text-anchor="start" font-weight="bold" fill="#000" stroke="#000" stroke-width="0.1" >D</text>
<line x1="22.30" y1="331.40" x2="22.30" y2="398.00" stroke="#333" stroke-width="1" />
<text x="0.00" y="0.00" font-size="8.4" text-anchor="middle" font-weight="normal" fill="#111" stroke="#111" stroke-width="0.03" transform="translate(18,364.6) rotate(-90)">LNs</text>
<text x="53.90" y="326.40" font-size="8.6" text-anchor="middle" font-weight="bold" fill="#000" stroke="#000" stroke-width="0.1" >12w</text>
<path d="M53.90,338.60 A28.8,28.8 0 0 1 62.11,339.79 L58.29,352.64 A15.4,15.4 0 0 0 53.90,352.00 Z" fill="#e8402a" stroke="#2a2a2a" stroke-width="0.7"/>
<path d="M62.11,339.79 A28.8,28.8 0 0 1 63.83,340.36 L59.21,352.94 A15.4,15.4 0 0 0 58.29,352.64 Z" fill="#3d8ef5" stroke="#2a2a2a" stroke-width="0.7"/>
<path d="M63.83,340.36 A28.8,28.8 0 0 1 68.87,342.80 L61.91,354.24 A15.4,15.4 0 0 0 59.21,352.94 Z" fill="#f0993c" stroke="#2a2a2a" stroke-width="0.7"/>
<path d="M68.87,342.80 A28.8,28.8 0 0 1 71.55,344.64 L63.34,355.23 A15.4,15.4 0 0 0 61.91,354.24 Z" fill="#9ef04a" stroke="#2a2a2a" stroke-width="0.7"/>
<path d="M71.55,344.64 A28.8,28.8 0 1 1 53.90,338.60 L53.90,352.00 A15.4,15.4 0 1 0 63.34,355.23 Z" fill="#a8a8a8" stroke="#2a2a2a" stroke-width="0.7"/>
<text x="53.90" y="369.70" font-size="6.8" text-anchor="middle" font-weight="normal" fill="#222" stroke="#222" stroke-width="0.05" >348042</text>
<polyline points="58.05,338.90 59.00,330.50 62.00,330.50" fill="none" stroke="#222" stroke-width="0.7"/>
<text x="62.80" y="332.40" font-size="5.2" text-anchor="start" font-weight="normal" fill="#333" stroke="#333" stroke-width="0.04" >4.6%</text>
<polyline points="62.97,340.07 63.80,335.10 66.80,335.10" fill="none" stroke="#222" stroke-width="0.7"/>
<text x="67.60" y="337.00" font-size="5.2" text-anchor="start" font-weight="normal" fill="#333" stroke="#333" stroke-width="0.04" >1.0%</text>
<polyline points="66.41,341.46 67.00,339.00 74.80,339.00" fill="none" stroke="#222" stroke-width="0.7"/>
<text x="75.60" y="340.90" font-size="5.2" text-anchor="start" font-weight="normal" fill="#333" stroke="#333" stroke-width="0.04" >3.1%</text>
<polyline points="70.24,343.68 69.30,343.80 81.00,343.80" fill="none" stroke="#222" stroke-width="0.7"/>
<text x="81.80" y="345.70" font-size="5.2" text-anchor="start" font-weight="normal" fill="#333" stroke="#333" stroke-width="0.04" >1.8%</text>
<rect x="24.60" y="406.60" width="7.60" height="4.00" fill="#e8402a" stroke="#1a1a1a" stroke-width="0.9"/>
<text x="35.50" y="410.70" font-size="5.9" text-anchor="start" font-weight="normal" fill="#222" stroke="#222" stroke-width="0.06" >Product CAR<tspan baseline-shift="2" font-size="4.3"> − </tspan>CD8<tspan baseline-shift="2" font-size="4.3"> +</tspan></text>
<rect x="24.60" y="413.70" width="7.60" height="4.00" fill="#3d8ef5" stroke="#1a1a1a" stroke-width="0.9"/>
<text x="35.50" y="417.80" font-size="5.9" text-anchor="start" font-weight="normal" fill="#222" stroke="#222" stroke-width="0.06" >Product CAR<tspan baseline-shift="2" font-size="4.3"> +</tspan>CD8<tspan baseline-shift="2" font-size="4.3"> +</tspan></text>
<rect x="24.60" y="420.80" width="7.60" height="4.00" fill="#f0993c" stroke="#1a1a1a" stroke-width="0.9"/>
<text x="35.50" y="424.90" font-size="5.9" text-anchor="start" font-weight="normal" fill="#222" stroke="#222" stroke-width="0.06" >Non-product CD8<tspan baseline-shift="2" font-size="4.3"> +</tspan></text>
<rect x="24.60" y="427.90" width="7.60" height="4.00" fill="#9ef04a" stroke="#1a1a1a" stroke-width="0.9"/>
<text x="35.50" y="432.00" font-size="5.9" text-anchor="start" font-weight="normal" fill="#222" stroke="#222" stroke-width="0.06" >Non-product CD4<tspan baseline-shift="2" font-size="4.3"> +</tspan></text>
<rect x="24.60" y="435.00" width="7.60" height="4.00" fill="#a8a8a8" stroke="#1a1a1a" stroke-width="0.9"/>
<text x="35.50" y="439.10" font-size="5.9" text-anchor="start" font-weight="normal" fill="#222" stroke="#222" stroke-width="0.06" >Others</text>
<text x="95.80" y="309.50" font-size="8.8" text-anchor="start" font-weight="bold" fill="#000" stroke="#000" stroke-width="0.1" >E</text>
<text x="0.00" y="0.00" font-size="8.4" text-anchor="middle" font-weight="normal" fill="#111" stroke="#111" stroke-width="0.08" transform="translate(108.2,379.6) rotate(-90)">Repertoire</text>
<text x="176.50" y="322.40" font-size="8.5" text-anchor="middle" font-weight="bold" fill="#e8281e" stroke="#e8281e" stroke-width="0.1" >Product CAR<tspan baseline-shift="super" font-size="5">-</tspan>CD8<tspan baseline-shift="super" font-size="5">+</tspan></text>
<text x="176.50" y="331.60" font-size="7" text-anchor="middle" font-weight="normal" fill="#222" stroke="#222" stroke-width="0.08" >(15 clones)</text>
<line x1="140.30" y1="342.40" x2="140.30" y2="397.70" stroke="#222" stroke-width="1" />
<line x1="138.50" y1="397.70" x2="142.10" y2="397.70" stroke="#222" stroke-width="1" />
<line x1="137.10" y1="379.80" x2="140.30" y2="379.80" stroke="#222" stroke-width="1" />
<text x="135.70" y="382.30" font-size="7.1" text-anchor="end" font-weight="normal" fill="#111" stroke="#111" stroke-width="0.1" >5000</text>
<line x1="137.10" y1="361.00" x2="140.30" y2="361.00" stroke="#222" stroke-width="1" />
<text x="135.70" y="363.50" font-size="7.1" text-anchor="end" font-weight="normal" fill="#111" stroke="#111" stroke-width="0.1" >10000</text>
<line x1="137.10" y1="342.20" x2="140.30" y2="342.20" stroke="#222" stroke-width="1" />
<text x="135.70" y="344.70" font-size="7.1" text-anchor="end" font-weight="normal" fill="#111" stroke="#111" stroke-width="0.1" >15000</text>
<line x1="140.30" y1="404.50" x2="140.30" y2="418.80" stroke="#222" stroke-width="1" />
<line x1="138.50" y1="404.50" x2="142.10" y2="404.50" stroke="#222" stroke-width="1" />
<line x1="137.10" y1="418.80" x2="140.30" y2="418.80" stroke="#222" stroke-width="1" />
<text x="135.70" y="421.30" font-size="7.1" text-anchor="end" font-weight="normal" fill="#111" stroke="#111" stroke-width="0.1" >0</text>
<line x1="137.10" y1="411.65" x2="140.30" y2="411.65" stroke="#222" stroke-width="1" />
<text x="135.70" y="414.15" font-size="7.1" text-anchor="end" font-weight="normal" fill="#111" stroke="#111" stroke-width="0.1" >50</text>
<line x1="137.10" y1="404.50" x2="140.30" y2="404.50" stroke="#222" stroke-width="1" />
<text x="135.70" y="407.00" font-size="7.1" text-anchor="end" font-weight="normal" fill="#111" stroke="#111" stroke-width="0.1" >100</text>
<line x1="140.30" y1="418.80" x2="214.30" y2="418.80" stroke="#222" stroke-width="1" />
<line x1="152.10" y1="418.80" x2="152.10" y2="422.00" stroke="#222" stroke-width="1" />
<text x="0.00" y="0.00" font-size="7.7" text-anchor="end" font-weight="normal" fill="#111" stroke="#111" stroke-width="0.08" transform="translate(153.90,428.1) rotate(-45)">3w</text>
<line x1="169.70" y1="418.80" x2="169.70" y2="422.00" stroke="#222" stroke-width="1" />
<text x="0.00" y="0.00" font-size="7.7" text-anchor="end" font-weight="normal" fill="#111" stroke="#111" stroke-width="0.08" transform="translate(171.50,428.1) rotate(-45)">12w</text>
<line x1="187.40" y1="418.80" x2="187.40" y2="422.00" stroke="#222" stroke-width="1" />
<text x="0.00" y="0.00" font-size="7.7" text-anchor="end" font-weight="normal" fill="#111" stroke="#111" stroke-width="0.08" transform="translate(189.20,428.1) rotate(-45)">16w</text>
<line x1="205.00" y1="418.80" x2="205.00" y2="422.00" stroke="#222" stroke-width="1" />
<text x="0.00" y="0.00" font-size="7.7" text-anchor="end" font-weight="normal" fill="#111" stroke="#111" stroke-width="0.08" transform="translate(206.80,428.1) rotate(-45)">20w</text>
<clipPath id="cu140"><rect x="140.3" y="342" width="80" height="56.3"/></clipPath>
<clipPath id="cl140"><rect x="140.3" y="404" width="80" height="15"/></clipPath>
<g clip-path="url(#cu140)">
<polyline points="152.10,387.30 169.70,364.10 187.40,363.20 205.00,358.40" fill="none" stroke="#111" stroke-width="1.5" stroke-linejoin="round" />
<polyline points="152.10,395.80 169.70,385.30 187.40,381.70 205.00,385.80" fill="none" stroke="#111" stroke-width="1.5" stroke-linejoin="round" />
<polyline points="152.10,397.00 169.70,390.00 187.40,384.20 205.00,383.30" fill="none" stroke="#111" stroke-width="1.5" stroke-linejoin="round" />
<polyline points="152.10,398.00 169.70,396.70 187.40,396.70 205.00,398.30" fill="none" stroke="#111" stroke-width="1.5" stroke-linejoin="round" />
</g>
<g clip-path="url(#cl140)">
<polygon points="152.10000000000002,418.8 152.10000000000002,416.2 169.70000000000002,415.8 175.70000000000002,415 187.4,413 205.0,412.8 205.0,418.8" fill="#111"/><path d="M188.4,415.6 Q196.4,414.2 205.0,414.6 L205.0,416.2 Q196.4,416.6 188.4,415.6 Z" fill="#fff"/>
<polyline points="152.10,416.30 169.70,405.80 187.40,405.30 205.00,407.00" fill="none" stroke="#111" stroke-width="1.5" stroke-linejoin="round" />
</g>
<text x="277.50" y="322.40" font-size="8.5" text-anchor="middle" font-weight="bold" fill="#f0a050" stroke="#f0a050" stroke-width="0.1" >Non-product CD8<tspan baseline-shift="super" font-size="5">+</tspan></text>
<text x="277.50" y="331.60" font-size="7" text-anchor="middle" font-weight="normal" fill="#222" stroke="#222" stroke-width="0.08" >(100 clones)</text>
<line x1="239.10" y1="342.40" x2="239.10" y2="397.70" stroke="#222" stroke-width="1" />
<line x1="237.30" y1="397.70" x2="240.90" y2="397.70" stroke="#222" stroke-width="1" />
<line x1="235.90" y1="379.80" x2="239.10" y2="379.80" stroke="#222" stroke-width="1" />
<text x="234.50" y="382.30" font-size="7.1" text-anchor="end" font-weight="normal" fill="#111" stroke="#111" stroke-width="0.1" >5000</text>
<line x1="235.90" y1="361.00" x2="239.10" y2="361.00" stroke="#222" stroke-width="1" />
<text x="234.50" y="363.50" font-size="7.1" text-anchor="end" font-weight="normal" fill="#111" stroke="#111" stroke-width="0.1" >10000</text>
<line x1="235.90" y1="342.20" x2="239.10" y2="342.20" stroke="#222" stroke-width="1" />
<text x="234.50" y="344.70" font-size="7.1" text-anchor="end" font-weight="normal" fill="#111" stroke="#111" stroke-width="0.1" >15000</text>
<line x1="239.10" y1="404.50" x2="239.10" y2="418.80" stroke="#222" stroke-width="1" />
<line x1="237.30" y1="404.50" x2="240.90" y2="404.50" stroke="#222" stroke-width="1" />
<line x1="235.90" y1="418.80" x2="239.10" y2="418.80" stroke="#222" stroke-width="1" />
<text x="234.50" y="421.30" font-size="7.1" text-anchor="end" font-weight="normal" fill="#111" stroke="#111" stroke-width="0.1" >0</text>
<line x1="235.90" y1="411.65" x2="239.10" y2="411.65" stroke="#222" stroke-width="1" />
<text x="234.50" y="414.15" font-size="7.1" text-anchor="end" font-weight="normal" fill="#111" stroke="#111" stroke-width="0.1" >50</text>
<line x1="235.90" y1="404.50" x2="239.10" y2="404.50" stroke="#222" stroke-width="1" />
<text x="234.50" y="407.00" font-size="7.1" text-anchor="end" font-weight="normal" fill="#111" stroke="#111" stroke-width="0.1" >100</text>
<line x1="239.10" y1="418.80" x2="313.10" y2="418.80" stroke="#222" stroke-width="1" />
<line x1="250.90" y1="418.80" x2="250.90" y2="422.00" stroke="#222" stroke-width="1" />
<text x="0.00" y="0.00" font-size="7.7" text-anchor="end" font-weight="normal" fill="#111" stroke="#111" stroke-width="0.08" transform="translate(252.70,428.1) rotate(-45)">3w</text>
<line x1="268.50" y1="418.80" x2="268.50" y2="422.00" stroke="#222" stroke-width="1" />
<text x="0.00" y="0.00" font-size="7.7" text-anchor="end" font-weight="normal" fill="#111" stroke="#111" stroke-width="0.08" transform="translate(270.30,428.1) rotate(-45)">12w</text>
<line x1="286.20" y1="418.80" x2="286.20" y2="422.00" stroke="#222" stroke-width="1" />
<text x="0.00" y="0.00" font-size="7.7" text-anchor="end" font-weight="normal" fill="#111" stroke="#111" stroke-width="0.08" transform="translate(288.00,428.1) rotate(-45)">16w</text>
<line x1="303.80" y1="418.80" x2="303.80" y2="422.00" stroke="#222" stroke-width="1" />
<text x="0.00" y="0.00" font-size="7.7" text-anchor="end" font-weight="normal" fill="#111" stroke="#111" stroke-width="0.08" transform="translate(305.60,428.1) rotate(-45)">20w</text>
<clipPath id="cu239"><rect x="239.1" y="342" width="80" height="56.3"/></clipPath>
<clipPath id="cl239"><rect x="239.1" y="404" width="80" height="15"/></clipPath>
<g clip-path="url(#cu239)">
<polygon points="250.9,392 258.9,391.5 268.5,388.1 286.2,391.8 303.8,392 303.8,398.3 250.9,398.3" fill="#111"/><polyline points="250.9,396.6 268.5,393.6 286.2,394.6 303.8,394.2" stroke="#fff" stroke-width="0.9" fill="none"/><polyline points="260.9,397.2 303.8,396.8" stroke="#fff" stroke-width="0.6" fill="none"/>
<polyline points="250.90,392.80 268.50,375.00 286.20,385.00 303.80,384.30" fill="none" stroke="#111" stroke-width="1.5" stroke-linejoin="round" />
</g>
<g clip-path="url(#cl239)">
<polygon points="250.9,418.8 250.9,417.5 268.5,413 286.2,413 303.8,414.2 303.8,418.8" fill="#111"/>
<polyline points="250.90,416.00 268.50,395.00 286.20,395.00 303.80,395.00" fill="none" stroke="#111" stroke-width="1.5" stroke-linejoin="round" />
</g>
<text x="374.50" y="322.40" font-size="8.5" text-anchor="middle" font-weight="bold" fill="#2440d8" stroke="#2440d8" stroke-width="0.1" >Product CAR<tspan baseline-shift="super" font-size="5">+</tspan>CD8<tspan baseline-shift="super" font-size="5">+</tspan></text>
<text x="374.50" y="331.60" font-size="7" text-anchor="middle" font-weight="normal" fill="#222" stroke="#222" stroke-width="0.08" >(3 clones)</text>
<line x1="337.80" y1="342.40" x2="337.80" y2="397.70" stroke="#222" stroke-width="1" />
<line x1="336.00" y1="397.70" x2="339.60" y2="397.70" stroke="#222" stroke-width="1" />
<line x1="334.60" y1="379.80" x2="337.80" y2="379.80" stroke="#222" stroke-width="1" />
<text x="333.20" y="382.30" font-size="7.1" text-anchor="end" font-weight="normal" fill="#111" stroke="#111" stroke-width="0.1" >5000</text>
<line x1="334.60" y1="361.00" x2="337.80" y2="361.00" stroke="#222" stroke-width="1" />
<text x="333.20" y="363.50" font-size="7.1" text-anchor="end" font-weight="normal" fill="#111" stroke="#111" stroke-width="0.1" >10000</text>
<line x1="334.60" y1="342.20" x2="337.80" y2="342.20" stroke="#222" stroke-width="1" />
<text x="333.20" y="344.70" font-size="7.1" text-anchor="end" font-weight="normal" fill="#111" stroke="#111" stroke-width="0.1" >15000</text>
<line x1="337.80" y1="404.50" x2="337.80" y2="418.80" stroke="#222" stroke-width="1" />
<line x1="336.00" y1="404.50" x2="339.60" y2="404.50" stroke="#222" stroke-width="1" />
<line x1="334.60" y1="418.80" x2="337.80" y2="418.80" stroke="#222" stroke-width="1" />
<text x="333.20" y="421.30" font-size="7.1" text-anchor="end" font-weight="normal" fill="#111" stroke="#111" stroke-width="0.1" >0</text>
<line x1="334.60" y1="411.65" x2="337.80" y2="411.65" stroke="#222" stroke-width="1" />
<text x="333.20" y="414.15" font-size="7.1" text-anchor="end" font-weight="normal" fill="#111" stroke="#111" stroke-width="0.1" >50</text>
<line x1="334.60" y1="404.50" x2="337.80" y2="404.50" stroke="#222" stroke-width="1" />
<text x="333.20" y="407.00" font-size="7.1" text-anchor="end" font-weight="normal" fill="#111" stroke="#111" stroke-width="0.1" >100</text>
<line x1="337.80" y1="418.80" x2="411.80" y2="418.80" stroke="#222" stroke-width="1" />
<line x1="349.60" y1="418.80" x2="349.60" y2="422.00" stroke="#222" stroke-width="1" />
<text x="0.00" y="0.00" font-size="7.7" text-anchor="end" font-weight="normal" fill="#111" stroke="#111" stroke-width="0.08" transform="translate(351.40,428.1) rotate(-45)">3w</text>
<line x1="367.20" y1="418.80" x2="367.20" y2="422.00" stroke="#222" stroke-width="1" />
<text x="0.00" y="0.00" font-size="7.7" text-anchor="end" font-weight="normal" fill="#111" stroke="#111" stroke-width="0.08" transform="translate(369.00,428.1) rotate(-45)">12w</text>
<line x1="384.90" y1="418.80" x2="384.90" y2="422.00" stroke="#222" stroke-width="1" />
<text x="0.00" y="0.00" font-size="7.7" text-anchor="end" font-weight="normal" fill="#111" stroke="#111" stroke-width="0.08" transform="translate(386.70,428.1) rotate(-45)">16w</text>
<line x1="402.50" y1="418.80" x2="402.50" y2="422.00" stroke="#222" stroke-width="1" />
<text x="0.00" y="0.00" font-size="7.7" text-anchor="end" font-weight="normal" fill="#111" stroke="#111" stroke-width="0.08" transform="translate(404.30,428.1) rotate(-45)">20w</text>
<clipPath id="cu337"><rect x="337.8" y="342" width="80" height="56.3"/></clipPath>
<clipPath id="cl337"><rect x="337.8" y="404" width="80" height="15"/></clipPath>
<g clip-path="url(#cu337)">
<polyline points="349.60,395.90 367.20,393.30 384.90,393.30 402.50,385.60" fill="none" stroke="#111" stroke-width="1.5" stroke-linejoin="round" />
</g>
<g clip-path="url(#cl337)">
<polyline points="349.60,418.30 367.20,418.00 384.90,417.60 402.50,416.20" fill="none" stroke="#111" stroke-width="1.5" stroke-linejoin="round" />
<polyline points="349.60,418.60 367.20,418.50 384.90,418.30 402.50,417.50" fill="none" stroke="#111" stroke-width="1.5" stroke-linejoin="round" />
</g>
</svg>
</body></html>
